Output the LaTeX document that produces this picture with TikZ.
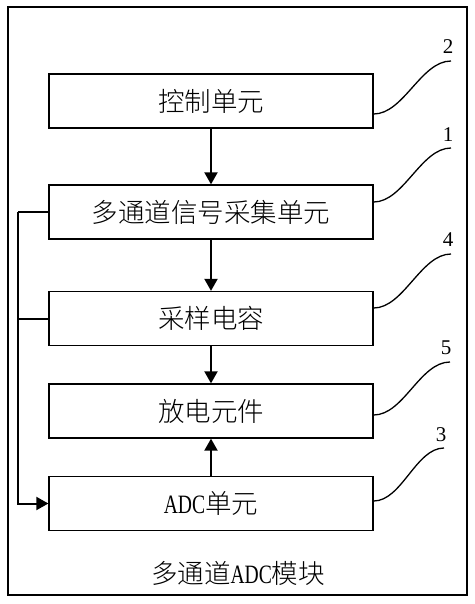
\documentclass[tikz,border=0pt]{standalone}
\usepackage{fontspec}
\usepackage{graphicx}
\setmainfont{Liberation Serif}
\newfontfamily\cjk{Noto Sans CJK SC Light}
\usetikzlibrary{arrows.meta}
\newcommand{\adctext}{\scalebox{0.74}[1]{ADC}}
\begin{document}
\begin{tikzpicture}[x=1pt,y=-1pt,
  box/.style={draw, line width=1.3pt, minimum width=324pt, minimum height=54pt, inner sep=0pt,
    font=\fontsize{26.5}{26.5}\selectfont},
  arr/.style={line width=2pt, -{Triangle[width=13pt,length=12pt]}},
  fbline/.style={line width=2pt},
  lead/.style={line width=1.3pt},
  num/.style={font=\fontsize{21}{21}\selectfont, inner sep=0pt}]
\useasboundingbox (0,0) rectangle (474,604);
\node[draw, line width=1.3pt, minimum width=459pt, minimum height=588pt, inner sep=0pt] (frame) at (237.5,301) {};
\node[box] (b1) at (211,101) {\cjk 控制单元};
\node[box] (b2) at (211,212) {\cjk 多通道信号采集单元};
\node[box] (b3) at (211,318.5) {\cjk 采样电容};
\node[box] (b4) at (211,411) {\cjk 放电元件};
\node[box] (b5) at (211,503.5) {\adctext{\cjk 单元}};
\node[font=\fontsize{26.5}{26.5}\selectfont] (title) at (238,573) {{\cjk 多通道}\adctext{\cjk 模块}};
% arrows
\draw[arr] (b1.south) -- (b2.north);
\draw[arr] (b2.south) -- (b3.north);
\draw[arr] (b3.south) -- (b4.north);
\draw[arr] (b5.north) -- (b4.south);
% feedback
\coordinate (fb) at (18,212);
\draw[fbline] (b2.west) -- (fb);
\draw[fbline] (b3.west) -- (b3.west -| fb);
\draw[arr] (fb) |- (b5.west);
% labels
\node[num] (n2) at (448,47) {2};
\node[num] (n1) at (448,135) {1};
\node[num] (n4) at (448,240) {4};
\node[num] (n5) at (446,348) {5};
\node[num] (n3) at (441,435) {3};
\coordinate (e2) at (451,61);
\coordinate (e1) at (451,148);
\coordinate (e4) at (451,254);
\coordinate (e5) at (450,362);
\coordinate (e3) at (444,448);
\draw[lead] ([yshift=-13pt]b1.east) .. controls +(30,0) and +(-30,0) .. (e2);
\draw[lead] ([yshift=10pt]b2.east) .. controls +(30,0) and +(-30,0) .. (e1);
\draw[lead] ([yshift=10.5pt]b3.east) .. controls +(30,0) and +(-30,0) .. (e4);
\draw[lead] ([yshift=-4pt]b4.east) .. controls +(30,0) and +(-30,0) .. (e5);
\draw[lead] ([yshift=2.5pt]b5.east) .. controls +(28,0) and +(-28,0) .. (e3);
\end{tikzpicture}
\end{document}
